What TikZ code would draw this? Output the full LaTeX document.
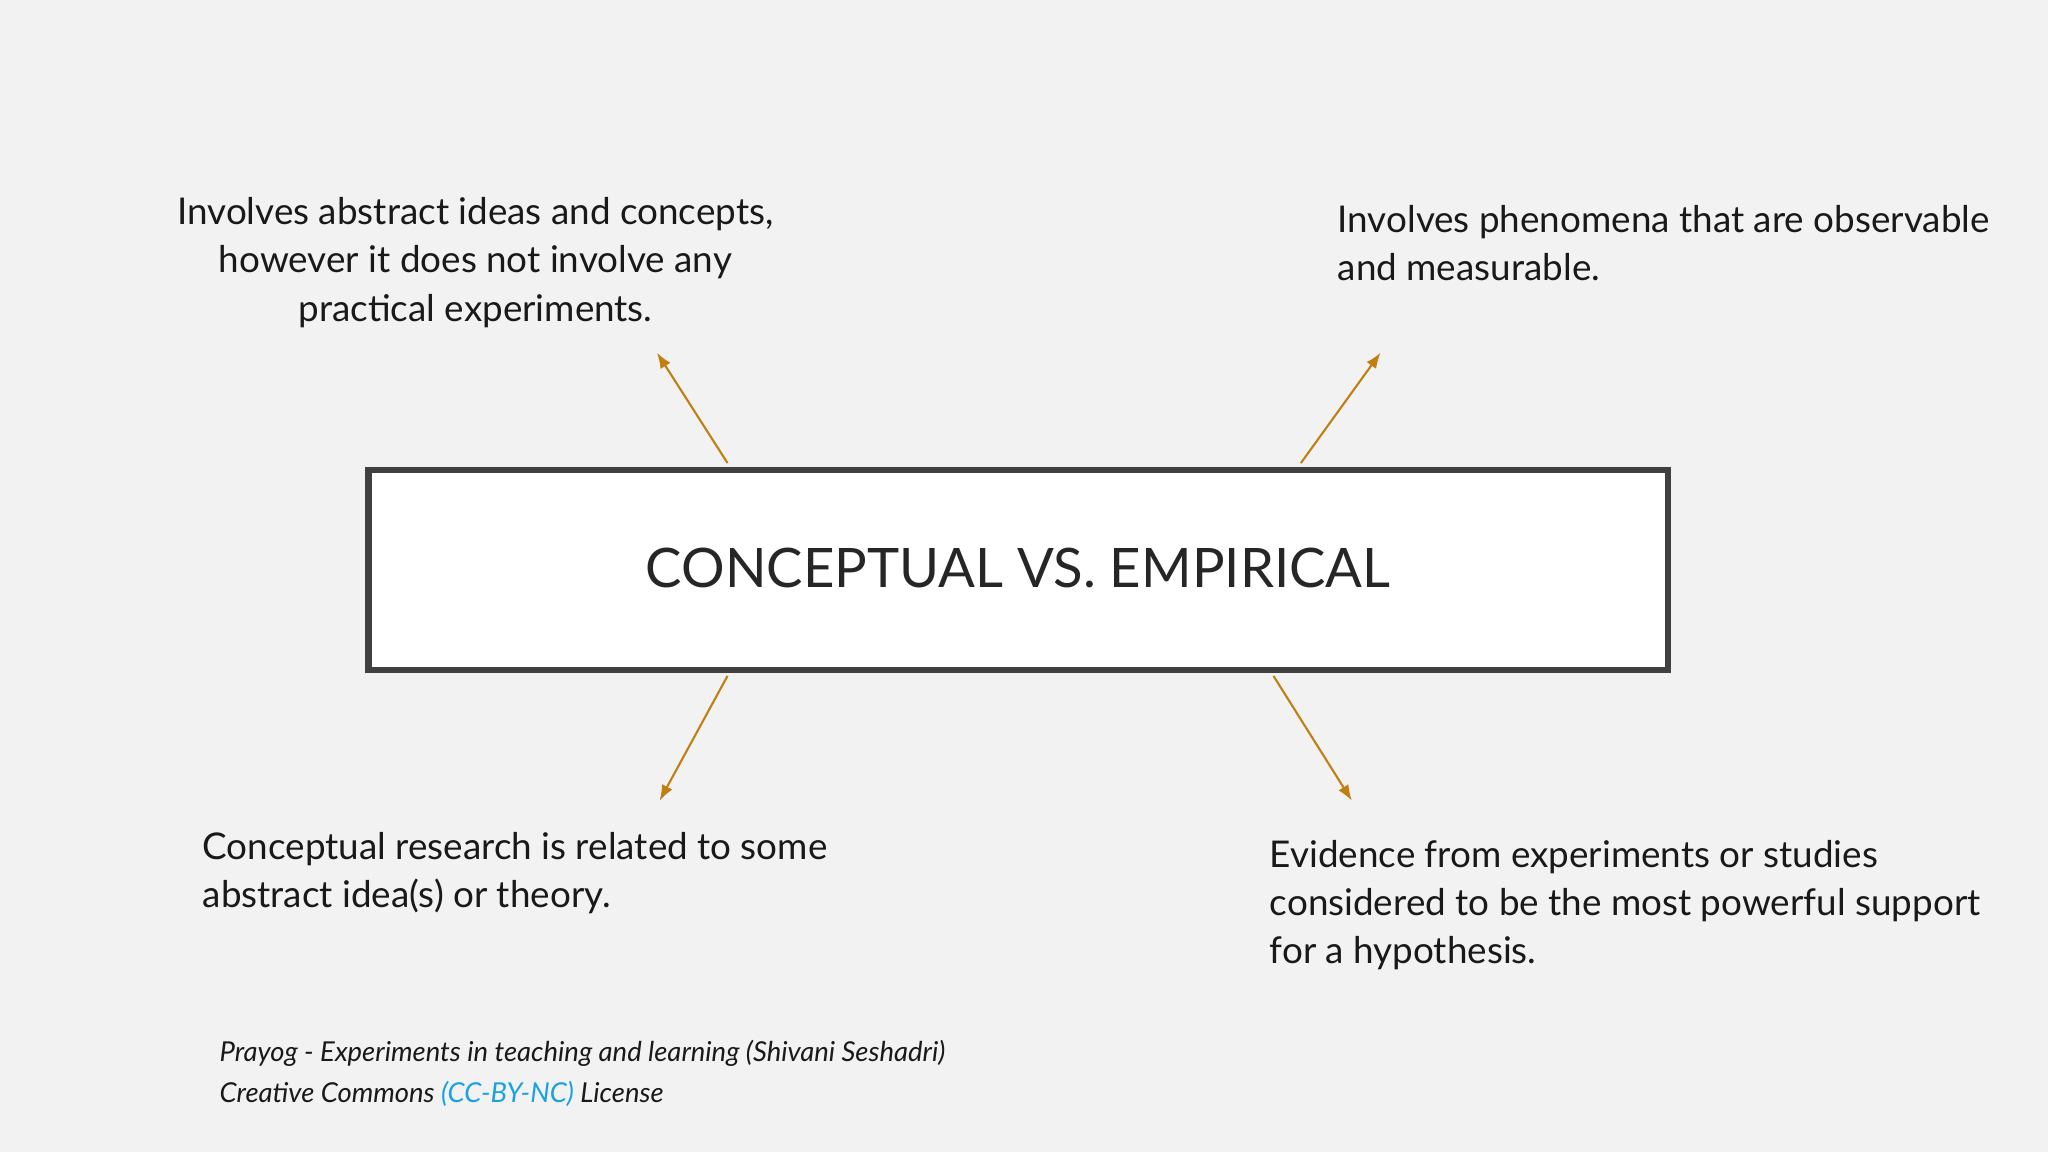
\documentclass[tikz,border=0pt]{standalone}
\usepackage{fontspec}
\usetikzlibrary{arrows.meta}
\setmainfont{Lato}
\definecolor{bg}{HTML}{F2F2F2}
\definecolor{arr}{HTML}{C07F10}
\definecolor{frame}{HTML}{404040}
\definecolor{lnk}{HTML}{1BA1E2}
\begin{document}
\begin{tikzpicture}[x=1pt,y=-1pt,
  body/.style={font=\fontsize{28.2}{37}\selectfont, text=black!90, inner sep=0pt},
  foot/.style={font=\fontsize{21}{32}\selectfont\itshape, text=black!90, inner sep=0pt, align=left, anchor=north west},
  pointer/.style={draw=arr, line width=1.6pt, -{Latex[length=12pt,width=9pt]}}]
\fill[bg] (0,0) rectangle (1568,882);
\useasboundingbox (0,0) rectangle (1568,882);
\node[draw=frame, line width=5pt, fill=white, minimum width=995pt, minimum height=153pt, inner sep=0pt,
  font=\fontsize{41.7}{50}\selectfont, text=black!85] (box) at (779.5,436.5) {\raisebox{3pt}{CONCEPTUAL VS. EMPIRICAL}};
\node[body, align=center, anchor=north] (tl) at (364,151) {Involves abstract ideas and concepts,\\however it does not involve any\\practical experiments.};
\node[body, align=left, anchor=north west] (tr) at (1024,157) {Involves phenomena that are observable\\and measurable.};
\node[body, align=left, anchor=north west] (bl) at (155,637) {Conceptual research is related to some\\abstract idea(s) or theory.};
\node[body, align=left, anchor=north west] (br) at (972,643) {Evidence from experiments or studies\\considered to be the most powerful support\\for a hypothesis.};
\coordinate (a1) at (503,270); \coordinate (a2) at (1057,270);
\coordinate (a3) at (505,613); \coordinate (a4) at (1035,613);
\draw[pointer] (box.north west -| 557,0) ++(0,-3) -- (a1);
\draw[pointer] (box.north west -| 996,0) ++(0,-3) -- (a2);
\draw[pointer] (box.south west -| 557,0) ++(0,2) -- (a3);
\draw[pointer] (box.south west -| 975,0) ++(0,2) -- (a4);
\node[foot] (fn) at (168,796) {Prayog - Experiments in teaching and learning (Shivani Seshadri)\\Creative Commons \textcolor{lnk}{(CC-BY-NC)} License};
\end{tikzpicture}
\end{document}
